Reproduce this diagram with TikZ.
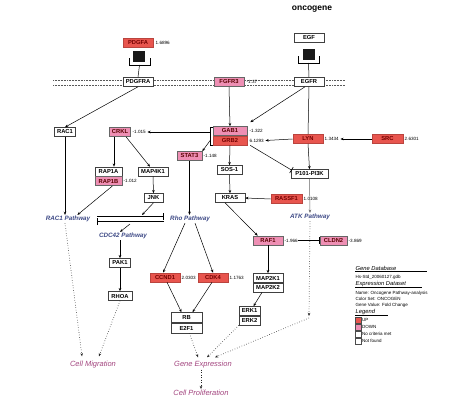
\documentclass[tikz,border=0pt]{standalone}
\usepackage{fontspec}
\setmainfont{Liberation Sans}
\usetikzlibrary{arrows.meta}
\definecolor{upred}{HTML}{E8554E}
\definecolor{downpink}{HTML}{EE8FB4}
\definecolor{pwblue}{HTML}{3E4A86}
\definecolor{cellpink}{HTML}{A2447E}
\tikzset{
 gene/.style={draw=black!75, line width=0.6pt, fill=white, minimum height=9pt, minimum width=30pt, inner sep=0pt, font=\fontsize{5.8}{6}\selectfont\bfseries},
 upg/.style={gene, fill=upred, draw=upred!80!black, text=red!45!black},
 downg/.style={gene, fill=downpink, draw=black!60, text=red!35!black},
 val/.style={font=\fontsize{4.6}{5}\selectfont, inner sep=0.5pt, anchor=west},
 pw/.style={font=\fontsize{6.3}{7}\selectfont\itshape\bfseries, text=pwblue, inner sep=1pt},
 cell/.style={font=\fontsize{7.5}{8}\selectfont\itshape, text=cellpink, inner sep=1pt},
 arr/.style={-{Stealth[length=3.2pt,width=2.6pt]}, line width=0.5pt},
 inh/.style={-{Bar[width=7pt,line width=0.6pt]}, line width=0.5pt},
 dots/.style={arr, dotted, line width=0.7pt, black!85},
 membrane/.style={densely dotted, line width=0.55pt, black!65},
 legt/.style={font=\fontsize{4.5}{5}\selectfont, anchor=west, inner sep=0.5pt},
 legh/.style={font=\fontsize{5.8}{6}\selectfont\itshape, anchor=south west, inner sep=0.5pt},
 blk/.style={fill=black!90, minimum width=12pt, minimum height=11pt, inner sep=0pt},
 swatch/.style={draw=black!70, line width=0.4pt, minimum width=6pt, minimum height=6pt, inner sep=0pt},
}
\begin{document}
\begin{tikzpicture}[x=1pt,y=-1pt]
\useasboundingbox (0,0) rectangle (474,407);
% title
\node[font=\fontsize{8.5}{9}\selectfont\bfseries] (title) at (312,9) {oncogene};
% membrane
\draw[membrane] (53,80) -- (345,80);
\draw[membrane] (53,85) -- (345,85);
% receptors and ligands
\node[upg] (pdgfa) at (138,43) {PDGFA};
\node[val] (vpdgfa) at (155,43) {1.6896};
\node[blk] (blk1) at (139,56) {};
\coordinate (b1l) at (129,58); \coordinate (b1r) at (150,58);
\coordinate (b1c) at (139.5,65);
\draw[line width=0.8pt] (b1l) -- (129,65) -- (150,65) -- (b1r);
\node[gene] (pdgfra) at (138,82) {PDGFRA};
\draw[line width=0.5pt] (b1c) -- (pdgfra.north);
\node[downg] (fgfr3) at (229,82) {FGFR3};
\node[val] (vfgfr3) at (246,82) {-1.37};
\node[gene] (egf) at (309,38) {EGF};
\node[blk] (blk2) at (308.5,54.5) {};
\coordinate (b2l) at (298,56); \coordinate (b2r) at (319,56);
\coordinate (b2c) at (308.5,63);
\draw[line width=0.8pt] (b2l) -- (298,63) -- (319,63) -- (b2r);
\node[gene] (egfr) at (309,82) {EGFR};
\draw[line width=0.5pt] (b2c) -- (egfr.north);
% left column
\node[gene, minimum width=21pt] (rac1) at (65,132) {RAC1};
\node[downg, minimum width=21pt] (crkl) at (120,132) {CRKL};
\node[val] (vcrkl) at (132,132) {-1.015};
\node[gene, minimum width=27pt] (rap1a) at (108.5,171.5) {RAP1A};
\node[downg, minimum width=27pt, anchor=north] (rap1b) at (rap1a.south) {RAP1B};
\node[val] (vrap1b) at (123,181) {-1.012};
\node[gene] (map4k1) at (153,171.5) {MAP4K1};
\node[gene, minimum width=19pt] (jnk) at (153.5,198) {JNK};
\node[pw] (racpw) at (68,219) {RAC1 Pathway};
\node[pw] (rhopw) at (190,219) {Rho Pathway};
\node[pw] (cdcpw) at (123,236) {CDC42 Pathway};
\node[gene, minimum width=21pt] (pak1) at (120,263) {PAK1};
\node[gene, minimum width=24pt] (rhoa) at (120,296) {RHOA};
\node[cell] (cellmig) at (93,365) {Cell Migration};
% centre
\node[downg, minimum width=34pt] (gab1) at (230,131) {GAB1};
\node[upg, minimum width=34pt, anchor=north] (grb2) at (gab1.south) {GRB2};
\node[val] (vgab1) at (249,131) {-1.322};
\node[val] (vgrb2) at (249,140.5) {6.1293};
\node[downg, minimum width=25pt] (stat3) at (189.5,156) {STAT3};
\node[val] (vstat3) at (203,156) {-1.148};
\node[gene, minimum width=25pt] (sos1) at (229.5,170) {SOS-1};
\node[gene] (kras) at (230,198) {KRAS};
\node[upg, minimum width=31pt] (rassf1) at (286.5,199) {RASSF1};
\node[val] (vrassf1) at (303,199) {1.0108};
\node[upg] (lyn) at (308,139) {LYN};
\node[val] (vlyn) at (324,139) {1.3434};
\node[upg, minimum width=31pt] (src) at (387.5,139) {SRC};
\node[val] (vsrc) at (404,139) {2.6301};
\node[gene, minimum width=37pt] (p101) at (309.5,174) {P101-PI3K};
\node[pw] (atkpw) at (310,217) {ATK Pathway};
\node[downg] (raf1) at (268,240.5) {RAF1};
\node[val] (vraf1) at (284,240.5) {-1.966};
\node[downg, minimum width=27pt] (cldn2) at (333.5,240.5) {CLDN2};
\node[val] (vcldn2) at (348,240.5) {-3.869};
\node[gene] (map2k1) at (268,278) {MAP2K1};
\node[gene, anchor=north] (map2k2) at (map2k1.south) {MAP2K2};
\node[gene, minimum width=21pt] (erk1) at (249.5,311) {ERK1};
\node[gene, minimum width=21pt, anchor=north] (erk2) at (erk1.south) {ERK2};
\node[upg] (ccnd1) at (165,277.5) {CCND1};
\node[val] (vccnd1) at (181,277.5) {2.0303};
\node[upg] (cdk4) at (213,277.5) {CDK4};
\node[val] (vcdk4) at (229,277.5) {1.1763};
\node[gene, minimum width=31pt, minimum height=10pt] (rb) at (186.5,317.5) {RB};
\node[gene, minimum width=31pt, minimum height=10pt, anchor=north] (e2f1) at (rb.south) {E2F1};
\node[cell] (geneexp) at (203,365) {Gene Expression};
\node[cell] (cellprol) at (201,393) {Cell Proliferation};
% GAB1/GRB2 bracket
\coordinate (gbt) at (213,127); \coordinate (gbb) at (213,145);
\draw[line width=1pt] (gbt) -- (210.5,127) -- (210.5,145) -- (gbb);
\coordinate (gbl) at (210.5,132);
\coordinate (gbl2) at (210.5,140);
% connectors
\draw[arr] (pdgfra.south) -- (rac1.north);
\draw[arr] (fgfr3.south) -- (gab1.north);
\draw[arr] ([xshift=-4pt]egfr.south) -- ([xshift=3pt,yshift=4pt]gab1.north east);
\draw[line width=0.5pt] (egfr.south) -- (lyn.north);
\draw[arr] (lyn.south) -- (p101.north);
\draw[arr] (src.west) -- ([xshift=1pt]vlyn.east);
\draw[arr] (lyn.west) -- ([xshift=1pt]vgrb2.east);
\draw[inh] ([xshift=3pt]grb2.south east) -- ([xshift=1pt,yshift=-1pt]p101.north west);
\draw[arr] (gbl) -- ([xshift=1pt]vcrkl.east);
\draw[arr] (gbl2) -- (stat3.north east);
\draw[arr] (grb2.south) -- (sos1.north);
\draw[arr] (sos1.south) -- (kras.north);
\draw[arr] (rassf1.west) -- (kras.east);
\draw[arr] ([xshift=-5pt]kras.south) -- ([xshift=5pt]raf1.north west);
\draw[arr, black!60] (p101.south) -- (atkpw.north);
\coordinate (atkend) at (309,316);
\draw[dots] (atkpw.south) -- (atkend);
\draw[dots] ([yshift=-2pt]atkend) -- ([xshift=12pt,yshift=3pt]geneexp.north);
\draw[inh] (vraf1.east) -- (cldn2.west);
\draw[arr] (raf1.south) -- (map2k1.north);
\draw[arr] ([xshift=-6pt]map2k2.south) -- ([xshift=4pt]erk1.north);
\draw[dots] (erk2.south west) -- ([xshift=4pt,yshift=3pt]geneexp.north);
\draw[arr] (rac1.south) -- (racpw.north -| rac1.south);
\draw[arr] ([xshift=-6pt]crkl.south) -- ([xshift=-6pt]crkl.south |- rap1a.north);
\draw[arr] ([xshift=6pt]crkl.south) -- ([xshift=-3pt]map4k1.north);
\draw[arr] (map4k1.south) -- (jnk.north);
\draw[arr] ([xshift=4pt]rap1b.south) -- ([xshift=-14pt]racpw.north east);
\draw[arr] (jnk.south) -- (142,215);
\draw[arr] (stat3.south) -- (stat3.south |- rhopw.north);
% mutual inhibition between RAC1 and Rho pathways
\coordinate (ib1) at (97,216.5); \coordinate (ib2) at (164,216.5);
\coordinate (ib3) at (164,221.5); \coordinate (ib4) at (97,221.5);
\draw[inh] (ib1) -- (ib2);
\draw[inh] (ib3) -- (ib4);
\coordinate (ibm) at (130,224);
\draw[arr] (ibm) -- ([xshift=-3pt]cdcpw.north);
\draw[arr] (cdcpw.south -| pak1.north) -- (pak1.north);
\draw[arr] (pak1.south) -- (rhoa.north);
\draw[dots] (rhoa.south) -- ([xshift=6pt,yshift=4pt]cellmig.north);
\draw[dots] (racpw.south -| rac1.south) -- ([xshift=-11pt,yshift=4pt]cellmig.north);
\draw[arr] ([xshift=-5pt]rhopw.south) -- ([xshift=-2pt]ccnd1.north);
\draw[arr] ([xshift=5pt]rhopw.south) -- (cdk4.north);
\draw[arr] ([xshift=2pt]ccnd1.south) -- ([xshift=-5pt]rb.north);
\draw[arr] ([xshift=-1pt]cdk4.south) -- ([xshift=6pt]rb.north);
\draw[dots] ([xshift=3pt]e2f1.south) -- ([xshift=-5pt,yshift=3pt]geneexp.north);
\draw[dots] ([xshift=-2pt]geneexp.south) -- ([xshift=0pt]cellprol.north);
% legend
\node[legh] (lgdb) at (355,271.5) {Gene Database};
\draw[line width=0.6pt] (lgdb.south west) -- (427,271.5);
\node[legt] (lhs) at (355,277.5) {Hs-Std\_20060127.gdb};
\node[legh] (lged) at (355,287) {Expression Dataset};
\draw[line width=0.6pt] (lged.south west) -- (422,287);
\node[legt] (lname) at (355,293) {Name: Oncogene Pathway-analysis};
\node[legt] (lcs) at (355,299) {Color Set: ONCOGEN};
\node[legt] (lgv) at (355,305) {Gene Value: Fold Change};
\node[legh] (lleg) at (355,315) {Legend};
\draw[line width=0.6pt] (lleg.south west) -- (388,315);
\node[swatch, fill=upred] (sw1) at (358,320) {};
\node[swatch, fill=downpink] (sw2) at (358,327) {};
\node[swatch, fill=white] (sw3) at (358,334) {};
\node[swatch, fill=white] (sw4) at (358,341) {};
\node[legt] (lup) at (361.5,320) {UP};
\node[legt] (ldown) at (361.5,327) {DOWN};
\node[legt] (lnc) at (361.5,334) {No criteria met};
\node[legt] (lnf) at (361.5,341) {Not found};
\end{tikzpicture}
\end{document}
